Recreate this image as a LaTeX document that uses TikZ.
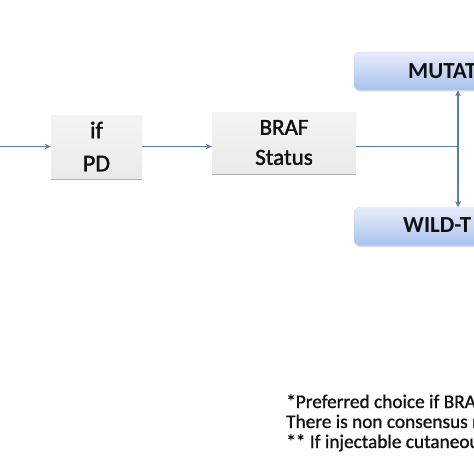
\documentclass[tikz,border=0pt]{standalone}
\usepackage{fontspec}
\setmainfont{Carlito}
\newfontfamily\heavyfont[FakeBold=1.6]{Carlito}
\newfontfamily\notefont[FakeBold=0.9]{Carlito}
\usetikzlibrary{arrows.meta,shadows}
\definecolor{arrowblue}{HTML}{5580BA}
\definecolor{graytop}{HTML}{F4F4F4}
\definecolor{graybot}{HTML}{EAEAEA}
\definecolor{bluetop}{HTML}{E8ECFA}
\definecolor{bluebot}{HTML}{A8C2EE}
\definecolor{txt}{HTML}{111111}
\begin{document}
\begin{tikzpicture}[x=1pt,y=-1pt,
  graybox/.style={top color=graytop, bottom color=graybot, draw=none, inner sep=0pt, align=center, text=txt,
    drop shadow={shadow xshift=0pt, shadow yshift=-1.8pt, opacity=0.5, fill=black!60}},
  bluebox/.style={draw=bluebot!70!white, line width=0.3pt, rounded corners=6pt, top color=bluetop, bottom color=bluebot,
    inner sep=0pt, minimum width=220pt, minimum height=38pt,
    drop shadow={shadow xshift=0pt, shadow yshift=-1.5pt, opacity=0.25, fill=black!50}},
  bluelabel/.style={anchor=base west, inner sep=0pt, text=txt, font=\bfseries\fontsize{23}{27}\selectfont},
  note/.style={anchor=base west, inner sep=0pt, text=txt, font=\notefont\fontsize{19.3}{21}\selectfont},
  conn/.style={draw=arrowblue, line width=1.4pt},
  arr/.style={conn, -{Stealth[length=6pt,width=5.5pt,inset=1.5pt]}}]
\path[use as bounding box, fill=white] (0,0) rectangle (474,474);
\clip (0,0) rectangle (474,474);

\node[graybox, minimum width=91pt, minimum height=63pt,
  font=\heavyfont\fontsize{24}{33}\selectfont] (ifpd) at (96.5,146.5) {if\\PD};
\node[graybox, minimum width=144pt, minimum height=61pt,
  font=\heavyfont\fontsize{23}{30}\selectfont] (braf) at (284,142.5) {BRAF\\Status};

\node[bluebox] (mut) at (464,71) {};
\node[bluelabel] (mutt) at (408,78) {MUTAT};
\node[bluebox] (wt) at (464,226.5) {};
\node[bluelabel] (wtt) at (403,232) {WILD-T};

\coordinate (start) at (0,146.5);
\coordinate (junc) at (458,146.5);
\draw[arr] (start) -- (ifpd.west);
\draw[arr] (ifpd.east) -- (braf.west |- ifpd.east);
\draw[conn] (braf.east |- junc) -- (junc);
\draw[arr] (junc) -- (junc |- mut.south);
\draw[arr] (junc) -- (junc |- wt.north);

\node[note] (n1) at (286,408) {*Preferred choice if BRA};
\node[note] (n2) at (286,428) {There is non consensus m};
\node[note] (n3) at (286,448) {** If injectable cutaneou};
\end{tikzpicture}
\end{document}
